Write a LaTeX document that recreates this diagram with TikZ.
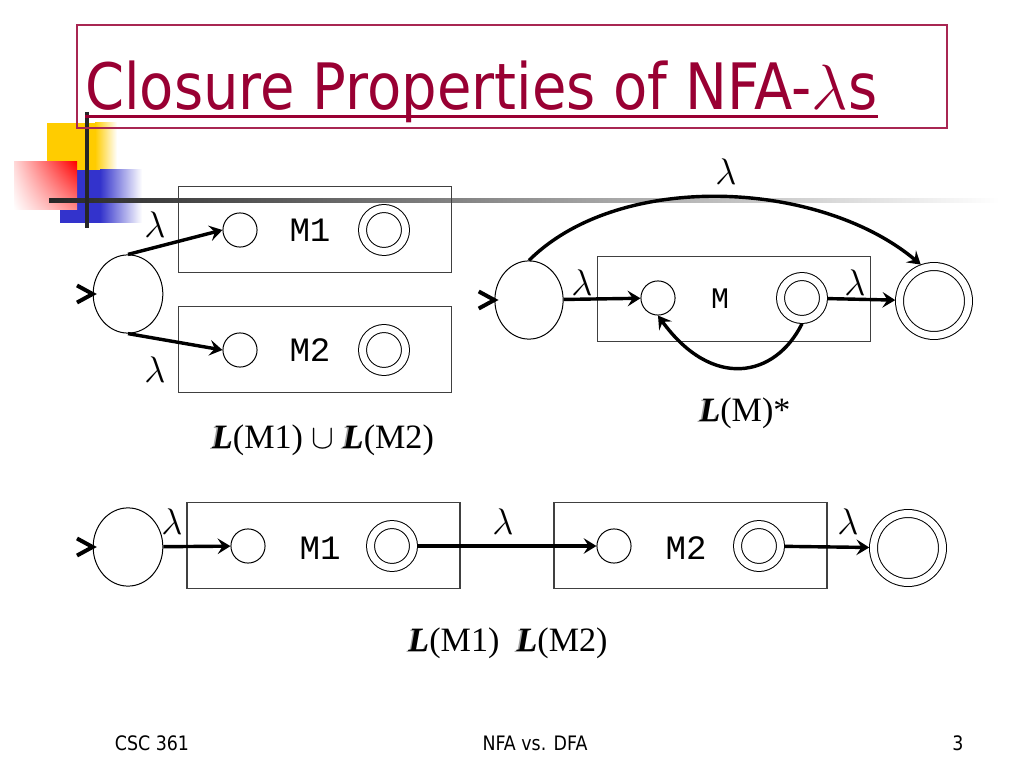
\RequirePackage{fix-cm}
\documentclass[tikz,border=0pt]{standalone}
\usepackage{fontspec}
\setmainfont{Liberation Serif}
\setmonofont{Liberation Mono}
\newfontfamily\tahoma[FakeStretch=0.875]{DejaVu Sans}
\usetikzlibrary{shapes}
\usetikzlibrary{shadings}
\usetikzlibrary{arrows.meta}
\definecolor{titlered}{RGB}{153,0,51}
\definecolor{decoyellow}{RGB}{255,204,0}
\definecolor{decoblue}{RGB}{51,51,204}
\newcommand{\shL}{\makebox[0pt][l]{\hspace{-1.2pt}\raisebox{-1.2pt}{\textcolor{black!35}{\textbf{\textit{L}}}}}\textbf{\textit{L}}}
\tikzset{
    mystart/.style = {ellipse, draw=black, line width=0.7pt, inner sep=0pt, minimum width=49pt, minimum height=55pt},
    mynode/.style = {circle, draw=black, line width=0.7pt, inner sep=0pt, minimum size=24pt},
    mynodef/.style = {circle, draw=black, line width=0.7pt, double, double distance=4.9pt, inner sep=0pt, outer sep=3pt, minimum size=30.2pt},
    myfinal/.style = {mynodef, minimum size=48.5pt},
    mybox/.style = {rectangle, draw=black!75, line width=0.9pt, minimum width=192pt, minimum height=60pt},
    mytext/.style = {font=\ttfamily\fontsize{24}{24}\selectfont},
    mytexts/.style = {font=\ttfamily\fontsize{21}{21}\selectfont},
    lam/.style = {font=\fontsize{26}{26}\selectfont, inner sep=0pt},
    lang/.style = {font=\fontsize{24}{24}\selectfont, inner sep=0pt},
    foot/.style = {font=\tahoma\fontsize{14}{14}\selectfont, inner sep=0pt},
    edgen/.style = {-{Stealth[length=9pt,width=11pt,inset=3.5pt]}, line width=2.4pt},
    edgel/.style = {line width=2.8pt, line join=miter}, % start mark
}

\begin{document}
\begin{tikzpicture}[x=0.703125pt, y=-0.703125pt]
\useasboundingbox (0,0) rectangle (1024,768);
\fill[white] (0,0) rectangle (1024,768);

% corner decoration
\fill[decoyellow] (47,123) rectangle (95,172);
\shade[left color=decoyellow, right color=white] (95,123) rectangle (117,172);
\fill[decoblue] (60,170) rectangle (100,223);
\shade[left color=decoblue, right color=white] (100,170) rectangle (142,223);
\shade[upper left=red!15, upper right=red, lower left=white, lower right=red!45] (14,162) rectangle (77,210);
\shade[left color=black!85, right color=white] (49,199) rectangle (1000,203);
\draw[line width=2.2pt, black!85] (87,112) -- (87,228);

% title
\draw[titlered!85, line width=0.8pt] (77,25) rectangle (947,128);
\node[font=\tahoma\fontsize{45}{45}\selectfont, text=titlered, anchor=base west, inner sep=0pt] (title) at (85,110) {Closure Properties of NFA-$\lambda$s};
\draw[titlered, line width=2.2pt] ([yshift=-4.6pt]title.base west) -- ([yshift=-4.6pt]title.base east);

% union
\node[mystart] (u0) at (128,294) {};
\node[mybox] (ub1) at (315,229.5) {};
\node[mybox] (ub2) at (315,349.5) {};
\node[mynode] (u1) at (240,230) {};
\node[mytext] (ut1) at (310,230) {M1};
\node[mynodef] (u2) at (384,230) {};
\node[mynode] (u3) at (240,350) {};
\node[mytext] (ut2) at (310,350) {M2};
\node[mynodef] (u4) at (384,350) {};
\draw[edgel] ([xshift=-11pt,yshift=6pt]u0.west) -- (u0.west) -- ([xshift=-11pt,yshift=-6pt]u0.west);
\draw[edgen] (u0.north) -- (u1.west);
\draw[edgen] (u0.south) -- (u3.west);
\node[lam] (ul1) at (155,225) {$\lambda$};
\node[lam] (ul2) at (155,370) {$\lambda$};
\node[lang] (ulang) at (323,440) {\shL(M1) $\cup$ \shL(M2)};

% star
\node[mystart, minimum width=48pt] (s0) at (529,300) {};
\node[mybox] (sb) at (734,299) {};
\node[mynode] (s1) at (658,298) {};
\node[mytexts] (st) at (720,299) {M};
\node[mynodef] (s2) at (802,298) {};
\node[myfinal] (s3) at (934,301) {};
\draw[edgel] ([xshift=-11pt,yshift=6pt]s0.west) -- (s0.west) -- ([xshift=-11pt,yshift=-6pt]s0.west);
\draw[edgen] (s0) -- (s1);
\draw[edgen] (s2) -- (s3);
\draw[edgen] (s0.north) .. controls (620,170) and (820,180) .. (s3.110);
\draw[edgen] (s2.south) .. controls (775,378) and (712,390) .. (s1.south);
\node[lam] (sl1) at (582,283) {$\lambda$};
\node[lam] (sl2) at (855,283) {$\lambda$};
\node[lam] (sl3) at (726,172) {$\lambda$};
\node[lang] (slang) at (745,413) {\shL(M)*};

% concatenation
\node[mystart] (c0) at (128,547) {};
\node[mybox] (cb1) at (323.5,545.5) {};
\node[mybox] (cb2) at (690.5,545.5) {};
\node[mynode] (c1) at (248,546) {};
\node[mytext] (ct1) at (320,548) {M1};
\node[mynodef] (c2) at (392,546) {};
\node[mynode] (c3) at (614,546) {};
\node[mytext] (ct2) at (686,548) {M2};
\node[mynodef] (c4) at (759,546) {};
\node[myfinal] (c5) at (908,548) {};
\draw[edgel] ([xshift=-11pt,yshift=6pt]c0.west) -- (c0.west) -- ([xshift=-11pt,yshift=-6pt]c0.west);
\draw[edgen] (c0) -- (c1);
\draw[edgen] (c2) -- (c3);
\draw[edgen] (c4) -- (c5);
\node[lam] (cl1) at (172,522) {$\lambda$};
\node[lam] (cl2) at (503,522) {$\lambda$};
\node[lam] (cl3) at (848,522) {$\lambda$};
\node[lang] (clang) at (508,643) {\shL(M1)\enspace\shL(M2)};

% footer
\node[foot] (f1) at (152,743) {CSC 361};
\node[foot] (f2) at (535,743) {NFA vs. DFA};
\node[foot] (f3) at (958,743) {3};
\end{tikzpicture}
\end{document}
